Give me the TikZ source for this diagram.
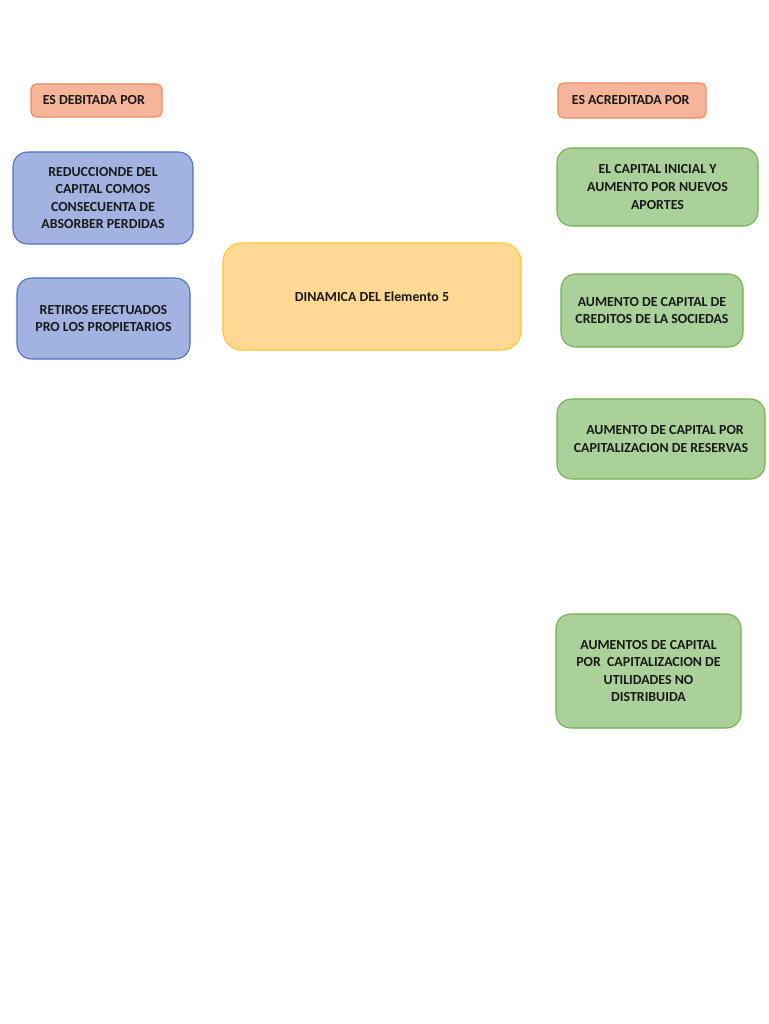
\documentclass[tikz,border=0pt]{standalone}
\usepackage{fontspec}
\setmainfont{Carlito}
\definecolor{salfill}{HTML}{F6B49B}
\definecolor{saldraw}{HTML}{EE8A5E}
\definecolor{bluefill}{HTML}{A2B3E1}
\definecolor{bluedraw}{HTML}{4A72C4}
\definecolor{yelfill}{HTML}{FFD993}
\definecolor{yeldraw}{HTML}{FFC62A}
\definecolor{grnfill}{HTML}{ABD19A}
\definecolor{grndraw}{HTML}{73AE4C}
\tikzset{
  base/.style={inner sep=0pt, align=center, font=\bfseries\fontsize{10.4}{13.2}\selectfont, text=black!90, line width=0.8pt},
  lbl/.style={base, rounded corners=4pt, fill=salfill, draw=saldraw},
  bluebox/.style={base, rounded corners=11pt, fill=bluefill, draw=bluedraw},
  yelbox/.style={base, rounded corners=14pt, fill=yelfill, draw=yeldraw},
  grnbox/.style={base, rounded corners=11pt, fill=grnfill, draw=grndraw},
}
\begin{document}
\begin{tikzpicture}[x=0.75pt, y=-0.75pt]
\useasboundingbox[fill=white] (0,0) rectangle (768,1024);
\node[lbl, minimum width=131*0.75pt, minimum height=33*0.75pt] (deb) at (96.5,100.5) {ES DEBITADA POR\hspace*{4pt}};
\node[lbl, minimum width=148*0.75pt, minimum height=35*0.75pt] (acr) at (632,100.5) {ES ACREDITADA POR\hspace*{2pt}};
\node[bluebox, minimum width=180*0.75pt, minimum height=92*0.75pt] (red) at (103,198) {REDUCCIONDE DEL\\CAPITAL COMOS\\CONSECUENTA DE\\ABSORBER PERDIDAS};
\node[bluebox, minimum width=173*0.75pt, minimum height=81*0.75pt] (ret) at (103.5,318.5) {RETIROS EFECTUADOS\\PRO LOS PROPIETARIOS};
\node[yelbox, minimum width=298*0.75pt, minimum height=107*0.75pt] (din) at (372,296.5) {DINAMICA DEL Elemento 5};
\node[grnbox, minimum width=201*0.75pt, minimum height=78*0.75pt] (cap) at (657.5,187) {EL CAPITAL INICIAL Y\\AUMENTO POR NUEVOS\\APORTES};
\node[grnbox, minimum width=182*0.75pt, minimum height=73*0.75pt] (cre) at (652,310.5) {AUMENTO DE CAPITAL DE\\CREDITOS DE LA SOCIEDAS};
\node[grnbox, minimum width=208*0.75pt, minimum height=80*0.75pt] (res) at (661,439) {\hspace*{6pt}AUMENTO DE CAPITAL POR\\CAPITALIZACION DE RESERVAS};
\node[grnbox, minimum width=185*0.75pt, minimum height=114*0.75pt] (uti) at (648.5,671) {AUMENTOS DE CAPITAL\\POR\ \ CAPITALIZACION DE\\UTILIDADES NO\\DISTRIBUIDA};
\end{tikzpicture}
\end{document}
